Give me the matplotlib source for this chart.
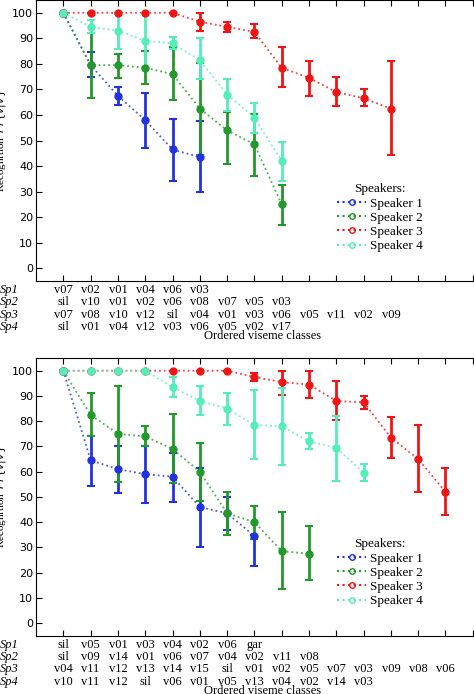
import matplotlib
matplotlib.use("Agg")
import matplotlib.pyplot as plt
import numpy as np

colors = ['#2233dd', '#22992a', '#ee1515', '#55eebb']
names = ['Speaker 1', 'Speaker 2', 'Speaker 3', 'Speaker 4']
SERIF = 'Liberation Serif'

# Top chart: (mean, low, high)
top_mean = [
    [100, 79.5, 67.5, 58, 46.5, 43.5],
    [100, 79.5, 79.5, 78.5, 76, 62.5, 54, 48.5, 25],
    [100, 100, 100, 100, 100, 96.5, 94.5, 92.5, 78.5, 74.5, 69, 66.5, 62.5],
    [100, 94.5, 93, 89, 88, 81.5, 68, 59, 42],
]
top_low = [
    [100, 75, 64, 47, 34, 30],
    [100, 66.5, 74.5, 72, 66, 44.5, 41, 36, 17],
    [100, 100, 100, 100, 100, 93, 92.5, 90, 71, 67.5, 63.5, 63.5, 44.5],
    [100, 92, 86, 78.5, 86, 74, 61.5, 53, 34],
]
top_high = [
    [100, 84.5, 71, 68.5, 58.5, 57.5],
    [100, 92, 84, 85, 86.5, 80.5, 61, 60.5, 32.5],
    [100, 100, 100, 100, 100, 100, 96.5, 95.5, 86.5, 81, 75, 70, 81],
    [100, 97, 100, 100, 90.5, 90, 74, 64.5, 49.5],
]
top_labels = [
    ['v07', 'v02', 'v01', 'v04', 'v06', 'v03'],
    ['sil', 'v10', 'v01', 'v02', 'v06', 'v08', 'v07', 'v05', 'v03'],
    ['v07', 'v08', 'v10', 'v12', 'sil', 'v04', 'v01', 'v03', 'v06', 'v05', 'v11', 'v02', 'v09'],
    ['sil', 'v01', 'v04', 'v12', 'v03', 'v06', 'v05', 'v02', 'v17'],
]

# Bottom chart
bot_mean = [
    [100, 64.5, 61, 59, 58, 46, 43.5, 34.5],
    [100, 82.5, 75, 74, 69, 60, 43.5, 40, 28.5, 27.5],
    [100, 100, 100, 100, 100, 100, 100, 97.5, 95.5, 94.5, 88, 87.5, 73.5, 65, 52],
    [100, 100, 100, 100, 93.5, 88, 85, 78.5, 78, 72, 69.5, 59.5],
]
bot_low = [
    [100, 54.5, 51.5, 47.5, 48, 30, 37, 22.5],
    [100, 74, 56, 70, 55.5, 48.5, 35, 33.5, 13.5, 17],
    [100, 100, 100, 100, 100, 100, 100, 96, 90.5, 89, 80.5, 85, 65.5, 52, 43],
    [100, 100, 100, 100, 89.5, 82.5, 78.5, 65, 62.5, 69, 56.5, 56.5],
]
bot_high = [
    [100, 74, 70, 70, 67.5, 61.5, 50, 35],
    [100, 91, 94, 78, 83, 71.5, 52, 46.5, 44, 38.5],
    [100, 100, 100, 100, 100, 100, 100, 99, 100, 100, 96, 90, 81.5, 78.5, 61.5],
    [100, 100, 100, 100, 97.5, 94, 91, 92.5, 93, 75.5, 82, 63],
]
bot_labels = [
    ['sil', 'v05', 'v01', 'v03', 'v04', 'v02', 'v06', 'gar'],
    ['sil', 'v09', 'v14', 'v01', 'v06', 'v07', 'v04', 'v02', 'v11', 'v08'],
    ['v04', 'v11', 'v12', 'v13', 'v14', 'v15', 'sil', 'v01', 'v02', 'v05', 'v07', 'v03', 'v09', 'v08', 'v06'],
    ['v10', 'v11', 'v12', 'sil', 'v06', 'v01', 'v05', 'v13', 'v04', 'v02', 'v14', 'v03'],
]
sp_names = ['Sp1', 'Sp2', 'Sp3', 'Sp4']

fig = plt.figure(figsize=(4.74, 6.94), dpi=100)
ax1 = fig.add_axes([0.076, 0.595, 0.979, 0.405])
ax2 = fig.add_axes([0.076, 0.084, 0.979, 0.40])

def draw(ax, means, lows, highs, labels):
    for k in range(4):
        m = np.array(means[k], float)
        lo = np.array(lows[k], float)
        hi = np.array(highs[k], float)
        x = np.arange(len(m))
        ax.plot(x, m, ':', color=colors[k], lw=1.3, alpha=0.8)
        ax.errorbar(x, m, yerr=[m - lo, hi - m], fmt='o', color=colors[k],
                    ms=5, elinewidth=2, capsize=3, capthick=1.5)
        ax.plot([], [], ':', color=colors[k], marker='o', mfc='none', ms=4,
                label=names[k])
    ax.set_xlim(-1, 16)
    ax.set_ylim(-5, 105)
    ax.set_yticks(range(0, 101, 10))
    ax.set_xticks(range(0, 17))
    ax.set_xticklabels([])
    ax.tick_params(direction='in', top=True, right=True, labelsize=8, length=4, pad=2)
    ax.set_ylabel(r'Recognition  $Pr\{v|\hat{v}\}$', family=SERIF, fontsize=8)
    ax.yaxis.set_label_coords(-0.058, 0.5)
    leg = ax.legend(loc='lower right', bbox_to_anchor=(0.86, 0.06), title='Speakers:',
                    frameon=False, prop={'family': SERIF, 'size': 9.5},
                    handlelength=2.2, handletextpad=0.3, labelspacing=0.15)
    leg.get_title().set_family(SERIF)
    leg.get_title().set_fontsize(9.5)
    for r in range(4):
        yoff = -(9 + 12.3 * r) * 0.72
        ax.annotate(sp_names[r], xy=(0, 0), xycoords='axes fraction',
                    xytext=(-36 * 0.72, yoff), textcoords='offset points',
                    ha='left', va='center', fontsize=9, family=SERIF, style='italic',
                    annotation_clip=False)
        for i, lab in enumerate(labels[r]):
            ax.annotate(lab, xy=(i, 0), xycoords=('data', 'axes fraction'),
                        xytext=(0, yoff), textcoords='offset points',
                        ha='center', va='center', fontsize=9, family=SERIF,
                        annotation_clip=False)
    ax.annotate('Ordered viseme classes', xy=(7.3, 0), xycoords=('data', 'axes fraction'),
                xytext=(0, -55 * 0.72), textcoords='offset points',
                ha='center', va='center', fontsize=9, family=SERIF,
                annotation_clip=False)

draw(ax1, top_mean, top_low, top_high, top_labels)
draw(ax2, bot_mean, bot_low, bot_high, bot_labels)

fig.savefig('out.png', dpi=100)
